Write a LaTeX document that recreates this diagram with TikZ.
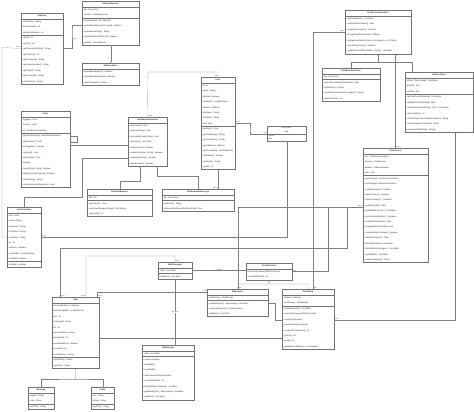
\documentclass[tikz,border=0pt]{standalone}
\usepackage{fontspec}
\setmainfont{Liberation Sans}
\usetikzlibrary{shapes.multipart,arrows.meta}

\newcommand{\hd}[1]{\hbox to\hsize{\hss\strut\textbf{#1}\hss}}

\tikzset{
  cls/.style={draw=black!55, fill=white, rectangle split, rectangle split parts=3,
    anchor=north west, align=left, inner xsep=1.5pt, inner ysep=0pt,
    text=black!85, font=\fontsize{6}{15.4}\selectfont},
  ifc/.style={cls, rectangle split parts=2},
  bw/.code={\pgfmathsetmacro\clsw{#1*2.84528-3}\edef\clswd{\noexpand\tikzset{text width=\clsw pt}}\clswd},
  link/.style={draw=black!50, line width=0.4pt},
  real/.style={-{Triangle[open, length=4pt, width=4.5pt]}},
  gen/.style={-{Triangle[open, length=4pt, width=4.5pt]}},
  lbl/.style={font=\fontsize{4.5}{5}\selectfont, text=black!75, inner sep=0.7pt},
}

\begin{document}
\begin{tikzpicture}[x=1mm,y=-1mm]
  \useasboundingbox (0,0) rectangle (474,411);

  \node[cls,bw=42] (address) at (21,13) {\hd{Address}
    \nodepart{two}\strut- streetName: String\\- houseNumber: int\\- additionalNumber: int\strut
    \nodepart{three}\strut+ getId(): int\\+ getPlz(): int\\+ getCountryAsString(): String\\+ getCountry(): int\\+ getCityName(): String\\+ getHouseNumber(): String\\+ getStreet(): String\\+ getPostcode(): String\\+ getPostbox(): String\strut};
  \node[cls,bw=57] (addrsvc) at (82,1) {\hd{AddressService}
    \nodepart{two}\strut- db: Connection\\- instance: AddressService\strut
    \nodepart{three}\strut+ getAddress(int id): Address\\+ getAddressByUser(int userId): Address\\+ getAddressString(): String\\+ getAddressForPlz(int plz): Address\\+ getAll(): List<Address>\strut};
  \node[ifc,bw=57] (addrstore) at (82,63) {\hd{AddressStore}
    \nodepart{two}\strut+ getAddressById(int): Address\\+ getAddressByUser(int): Address\\+ getPlzString(int): String\strut};
  \node[cls,bw=49] (auth) at (21,111) {\hd{Auth}
    \nodepart{two}\strut- loggedIn: User\\- instance: Auth\\- as: AuthServiceInterface\strut
    \nodepart{three}\strut+ getAuthStorage(): AuthServiceInterface\\+ getInstance(): Auth\\+ isLoggedIn(): boolean\\+ getUser(): User\\+ getUser(int): User\\+ logout()\\+ login(String, String): boolean\\+ register(UserContainer): boolean\\+ hash(String): String\\+ checkUser(UserContainer): User\strut};
  \node[cls,bw=34] (user) at (201,77) {\hd{User}
    \nodepart{two}\strut- id: int\\- email: String\\- enabled: boolean\\- createdAt: LocalDateTime\\- address: Address\\- lastName: String\\- firstName: String\\- role: Role\strut
    \nodepart{three}\strut+ getRole(): Role\\+ getFirstName(): String\\+ getLastName(): String\\+ getAddress(): Address\\+ getCreatedAt(): LocalDateTime\\+ isEnabled(): boolean\\+ getEmail(): String\\+ getId(): int\strut};
  \node[ifc,bw=39] (authif) at (128,117) {\hd{AuthServiceInterface}
    \nodepart{two}\strut+ getUser(int): User\\+ getUser(String): User\\+ getUserByEmail(String): User\\+ getUsers(): List<User>\\+ isAdmin(User): boolean\\+ createUser(User, String): boolean\\+ updateUser(User): boolean\\+ deleteUser(int): boolean\strut};
  \node[cls,bw=34] (usercont) at (7,207) {\hd{UserContainer}
    \nodepart{two}\strut+ role: Role\\+ email: String\\+ password: String\\+ firstName: String\\+ lastName: String\\+ id: int\\+ address: Address\\+ createdAt: LocalDateTime\\+ enabled: boolean\strut
    \nodepart{three}\strut+ isValid(): boolean\strut};
  \node[cls,bw=65] (fileauth) at (87,189) {\hd{FileAuthStorage}
    \nodepart{two}\strut- file: File\strut
    \nodepart{three}\strut+ getUser(int): User\\+ readUserStorage(String[]): List<String>\\+ getLastId(): int\strut};
  \node[cls,bw=72] (dbauth) at (162,189) {\hd{DatabaseAuthStorage}
    \nodepart{two}\strut- db: Connection\strut
    \nodepart{three}\strut+ getEmail(): String\\+ getUserFromResultSet(ResultSet): User\strut};
  \node[cls,bw=39,rectangle split parts=2,font=\fontsize{4.5}{10.5}\selectfont] (role) at (267,126)
    {\hbox to\hsize{\hss\strut«enumeration»\hss}\\\hd{Role}
    \nodepart{two}\strut Customer\\Admin\strut};

  \node[ifc,bw=66] (psi) at (345,10) {\hd{PostServiceInterface}
    \nodepart{two}\strut+ getPostById(int): PostShow\\+ createNewContainer(): Mail\\+ completeContainer(): boolean\\+ changePostStatus(Status, Officer)\\+ changePostStatus(Status, List<Integer>, int, Officer)\\+ uploadCheckIns(int): boolean\\+ getMailsFromOfficer(Officer, Status): List<Mail>\strut};
  \node[cls,bw=58] (dbpost) at (322,68) {\hd{DatabasePostStore}
    \nodepart{two}\strut- db: Connection\strut
    \nodepart{three}\strut+ getPostFromResult(ResultSet): Mail\\+ getAllPosts(): String\\+ createFilterParams(List<Integer>): String\\+ getPostCount(): int\strut};
  \node[cls,bw=68] (filepost) at (405,72) {\hd{FilePostStore}
    \nodepart{two}\strut- offices: Map<Integer, PostShow>\\- postFile: File\\- mailFile: File\strut
    \nodepart{three}\strut+ getPostFromFile(String): PostShow\\+ getMailFromFile(String): Mail\\+ extendFileForPlz(String[], List): List<String>\\+ getLastIdFile(): int\\+ mailContainerToLine(MailContainer): String\\+ mailCompanyToLine(Mail): String\\+ parseLineFile(String): String[]\strut};
  \node[cls,bw=65] (postsvc) at (363,148) {\hd{PostService}
    \nodepart{two}\strut- psi: PostServiceInterface\\- instance: PostService\\- address: AddressService\\- auth: Auth\strut
    \nodepart{three}\strut+ getStorage(): PostServiceInterface\\+ setStorage(PostServiceInterface)\\+ createContainer(): boolean\\+ addContainer(): boolean\\+ closeContainer(): Container\\+ getMailById(int): Mail\\+ getAllMailsForUser(): PostShow\\+ getContainerById(int): Container\\+ createMailContainer(): Mail\\+ changeMailStatus(Status, int)\\+ completeMailContainer(): boolean\\+ initMailContainer(): Mail\\+ filterMails(Status): List<Mail>\\+ filterMails(List<Integer>): List<Mail>\\+ getAllMails(): List<Mail>\\+ createCsvExport(): String\strut};

  \node[cls,bw=34] (mailtrans) at (158,262) {\hd{MailTransport}
    \nodepart{two}\strut- mails: List<Mail>\strut
    \nodepart{three}\strut+ getMails(): List<Mail>\strut};
  \node[ifc,bw=46] (postal) at (246,263) {\hd{PostalService}
    \nodepart{two}\strut+ incomingTransport(MailTransport)\\+ numberOfMails(): int\strut};
  \node[cls,bw=61] (mailcenter) at (207,289) {\hd{MailCenter}
    \nodepart{two}\strut- mailStorage: MailStorage\strut
    \nodepart{three}\strut+ getMailsByPlz(): Map<Integer, List<Mail>>\\+ outgoingTransport(): MailTransport\\+ getMails(): List<Mail>\strut};
  \node[cls,bw=52] (postoffice) at (282,289) {\hd{PostOffice}
    \nodepart{two}\strut- address: Address\\- mailStorage: MailStorage\strut
    \nodepart{three}\strut+ getMailsForPlz(): List<Mail>\\+ incomingTransport(MailTransport)\\+ outgoingTransport()\\+ sendOutgoingTransport()\\+ numberOfTransports(): int\\+ getPlz(): int\\+ getId(): int\\+ getMailsForAddress(): List<Integer>\strut};
  \node[cls,bw=52] (mailstore) at (142,345) {\hd{MailStorage}
    \nodepart{two}\strut- mails: List<Mail>\strut
    \nodepart{three}\strut+ save(List<Mail>)\\+ loadMails()\\+ sendMails()\\+ addTransport(MailTransport)\\+ numberOfMails(): int\\+ filterByPlz(int, boolean): List<Mail>\\+ getMailsByPlz(): Map<Integer, List<Mail>>\\+ getMails(): List<Mail>\strut};
  \node[cls,bw=47] (mail) at (52,297) {\hd{\itshape Mail}
    \nodepart{two}\strut\# receiverAddress: Address\\\# lastChangedAt: LocalDateTime\\\# plz: int\\\# trackingId: String\\\# id: int\\\# receiverName: String\\\# recipientId: int\\\# senderAddress: Address\\\# senderId: int\\\# senderName: String\strut
    \nodepart{three}\strut+ getStatus(): Status\\+ getText(): String\strut};
  \node[cls,bw=26] (package) at (28,387) {\hd{Package}
    \nodepart{two}\strut+ weight: String\\+ size: String\strut
    \nodepart{three}\strut+ getText(): String\strut};
  \node[cls,bw=23] (letter) at (91,387) {\hd{Letter}
    \nodepart{two}\strut- text: String\\- format: String\strut
    \nodepart{three}\strut+ getText(): String\strut};

  \coordinate (mailfork) at (75.5,379);
  \coordinate (psifork) at (378,62);
  \coordinate (authfork) at (140,181);
  \coordinate (postalfork) at (269,284);

  \begin{scope}[link]
    \draw (address.west) node[lbl,anchor=south east] {parent} -- (2,47.5) |- (usercont.west);
    \draw (address.east) -| (72,30) node[lbl,pos=0.75,anchor=west] {parent} |- (addrsvc.west |- 0,25);
    \draw[real] (addrsvc.south) -- (addrstore.north);
    \draw (user.north) node[lbl,anchor=south east] {child} |- (148,72) -- (authif.north) node[lbl,anchor=south west] {parent};
    \draw (user.east) node[lbl,anchor=south west] {parent} -| (250,130) |- (role.west) node[lbl,anchor=south east] {child};
    \draw (role.south) |- (usercont.east) node[lbl,anchor=south west] {parent};
    \draw (auth.east |- 0,145) -- (authif.west |- 0,145);
    \draw (auth.east |- 0,136) -- ++(7,0) -- ++(0,6) -- (auth.east |- 0,142);
    \draw (usercont.north) |- (82,197) |- (authif.west |- 0,158);
    \draw[real] (fileauth.north) |- (authfork) -- (authif.south -| authfork);
    \draw[real] (dbauth.north) |- (157,176) -- (authif.south -| 157,0);
    \draw (user.south) -- (dbauth.north -| user.south) node[lbl,anchor=south east] {parent};
    \draw (psi.west) node[lbl,anchor=south east] {parent} -| (postoffice.north -| 313,0) node[lbl,anchor=south west] {child};
    \draw[real] (dbpost.north) |- (psifork) -- (psi.south -| psifork);
    \draw[real] (filepost.north -| 412,0) |- (psifork) -- (psi.south -| psifork);
    \draw (psi.south -| 395,0) node[lbl,anchor=north west] {child} -- (postsvc.north -| 395,0) node[lbl,anchor=south west] {parent};
    \draw (filepost.south -| 455,0) node[lbl,anchor=north west] {parent} |- (postoffice.east |- 0,320) node[lbl,anchor=south west] {child};
    \draw (postsvc.west |- 0,207) node[lbl,anchor=south east] {parent} -| (mailcenter.north) node[lbl,anchor=south west] {child};
    \draw (postal.east) node[lbl,anchor=south west] {child} -| (328,207) -- (postsvc.west |- 0,207);
    \draw (mail.north -| 60,0) node[lbl,anchor=south west] {parent} |- (347,248) |- (postsvc.west |- 0,207);
    \draw (mail.north -| 86,0) node[lbl,anchor=south east] {parent} |- (175,256) -- (mailtrans.north) node[lbl,anchor=south west] {child};
    \draw (mail.north -| 97,0) node[lbl,anchor=south west] {parent} |- (mailcenter.west |- 0,292) node[lbl,anchor=south east] {child};
    \draw (mail.east |- 0,338) -- (postoffice.west |- 0,338);
    \draw (mailtrans.east) -- node[lbl,above] {List<Mail>} (postal.west |- mailtrans.east);
    \draw (mailtrans.south) -- node[lbl,fill=white] {List<Mail>} (mailstore.north -| mailtrans.south);
    \draw (mailcenter.east) -| (275,320) -- (postoffice.west |- 0,320);
    \draw[real] (mailcenter.north) |- (postalfork) -- (postal.south);
    \draw[real] (postoffice.north) |- (postalfork) -- (postal.south);
    \draw (package.north) |- (mailfork) -| (letter.north);
    \draw[gen] (mailfork) -- (mail.south);
  \end{scope}
\end{tikzpicture}
\end{document}
